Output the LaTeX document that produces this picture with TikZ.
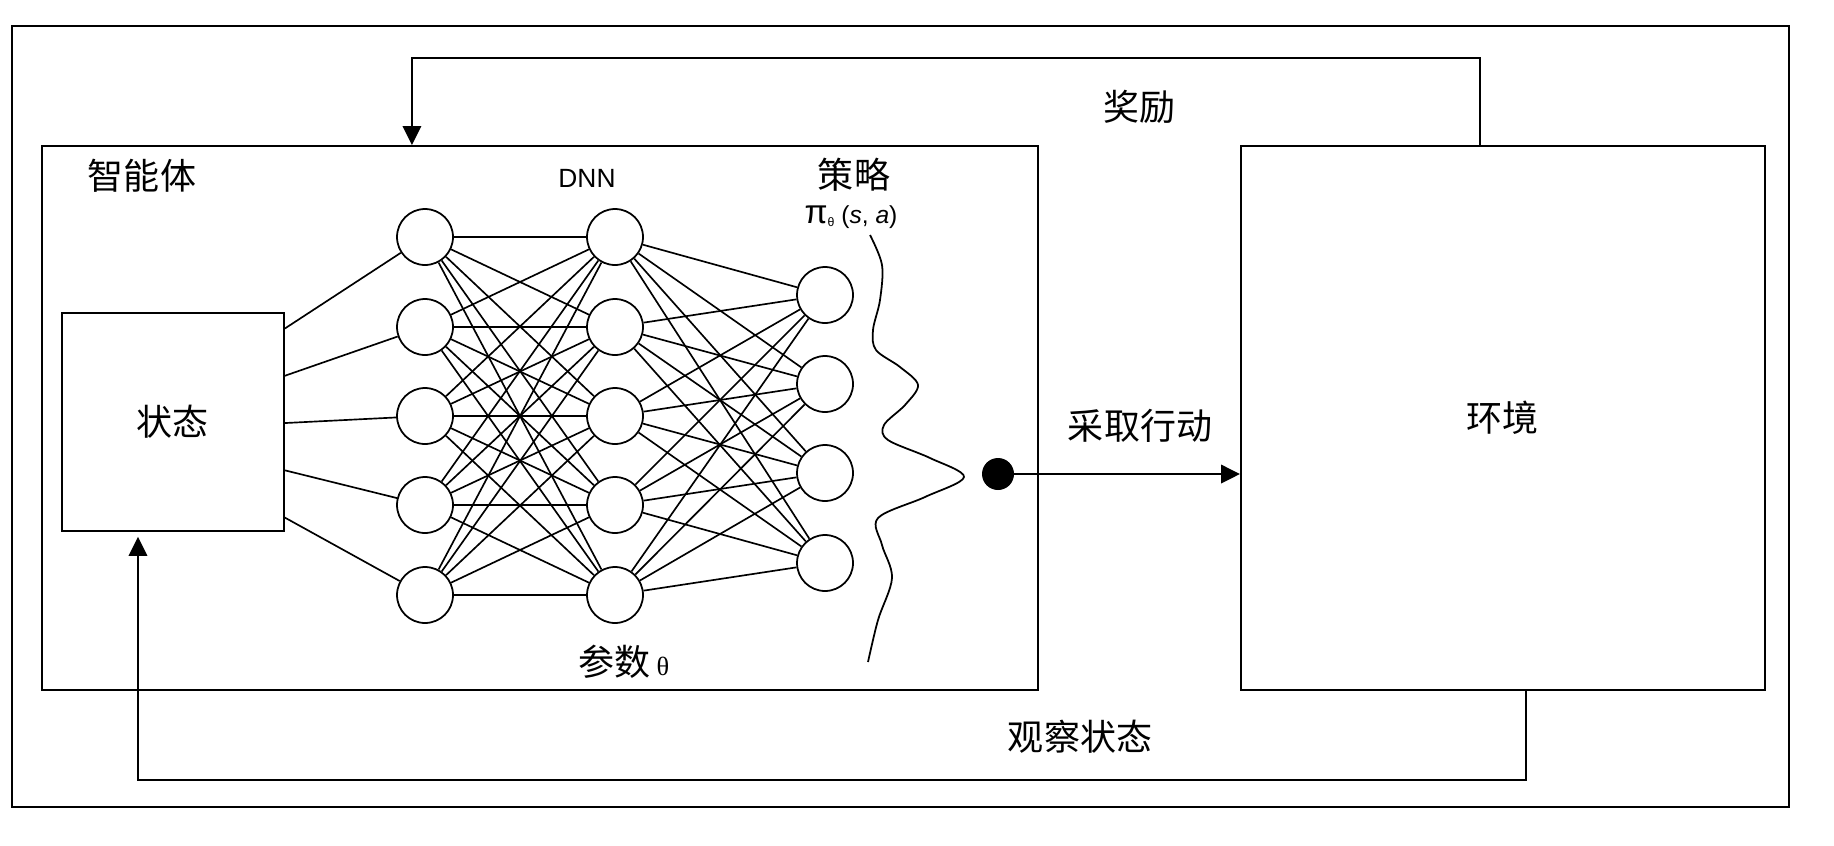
\documentclass[tikz,border=0pt]{standalone}
\usepackage{fontspec}
\setmainfont{Liberation Sans}
\newfontfamily\cjk{Noto Sans CJK SC}
\newfontfamily\greekserif{Liberation Serif}
\usetikzlibrary{%
	calc,%
	arrows.meta,%
	positioning,%
}
\tikzset{
	>={Triangle[length=0.38cm,width=0.37cm]},%
	box/.style={%
			draw,%
			rectangle,%
			line width=1.1pt,%
			inner sep=0,%
			anchor=north west},%
	neuron/.style={%
			draw,%
			circle,%
			line width=1pt,%
			minimum size=1.12cm,%
			inner sep=0},%
	cjklabel/.style={%
			font={\cjk\fontsize{20.5}{24}\selectfont}},%
	link/.style={line width=0.95pt},%
	flow/.style={->, line width=1.1pt},%
}

\begin{document}
\begin{tikzpicture}[x=0.02cm, y=-0.02cm]%
	\useasboundingbox (0,0) rectangle (1834,845);
	\draw[line width=1.6pt] (12,26) rectangle (1789,807);

	\node[box, minimum width=19.92cm, minimum height=10.88cm] (agent) at (41,145) {};
	\node[box, minimum width=10.48cm, minimum height=10.88cm, cjklabel] (env) at (1240,145) {环境};
	\node[box, minimum width=4.44cm, minimum height=4.36cm, cjklabel] (state) at (61,312) {状态};

	\node[cjklabel] (agentname) at (142,176) {智能体};
	\node[font={\fontsize{15}{18}\selectfont}] (dnn) at (587,178) {DNN};
	\node[cjklabel] (policy) at (854,175) {策略};
	\node[font={\fontsize{14}{17}\selectfont}] (pi) at (851,217) {{\fontsize{19}{20}\selectfont π}\raisebox{-0.25ex}{\fontsize{7}{8}\selectfont θ} (\textit{s}, \textit{a})};
	\node[cjklabel] (params) at (624,662) {参数\,{\greekserif\fontsize{15}{16}\selectfont θ}};

	\foreach \i/\y in {1/237,2/327,3/416,4/505,5/595} {
		\node[neuron] (a\i) at (425,\y) {};
		\node[neuron] (b\i) at (615,\y) {};
	}
	\foreach \i/\y in {1/295,2/384,3/473,4/563}
		\node[neuron] (c\i) at (825,\y) {};

	\foreach \i in {1,...,5}
		\draw[link] ($(state.north east)!{0.075+0.215*(\i-1)}!(state.south east)$) -- (a\i);
	\foreach \i in {1,...,5}
		\foreach \j in {1,...,5}
			\draw[link] (a\i) -- (b\j);
	\foreach \i in {1,...,5}
		\foreach \j in {1,...,4}
			\draw[link] (b\i) -- (c\j);

	\draw[line width=1pt] plot[smooth, tension=0.55] coordinates {(870,235) (882,265) (880,300) (873,330) (876,350) (900,367) (918,385) (905,405) (884,425) (888,440) (930,458) (964,477) (925,497) (878,518) (882,545) (892,578) (878,620) (868,662)};

	\node[circle, fill=black, minimum size=0.64cm, inner sep=0] (act) at (998,474) {};
	\draw[flow] (act) -- (act -| env.west);
	\node[cjklabel] (actname) at (1140,426) {采取行动};

	\draw[flow] ([xshift=4.8cm]env.north west) -- ++(0,-87) -| ([xshift=7.42cm]agent.north west);
	\node[cjklabel] (reward) at (1139,107) {奖励};

	\draw[flow] ([xshift=5.72cm]env.south west) -- ++(0,89) -| ([xshift=1.54cm,yshift=-0.1cm]state.south west);
	\node[cjklabel] (observe) at (1080,737) {观察状态};
\end{tikzpicture}
\end{document}
